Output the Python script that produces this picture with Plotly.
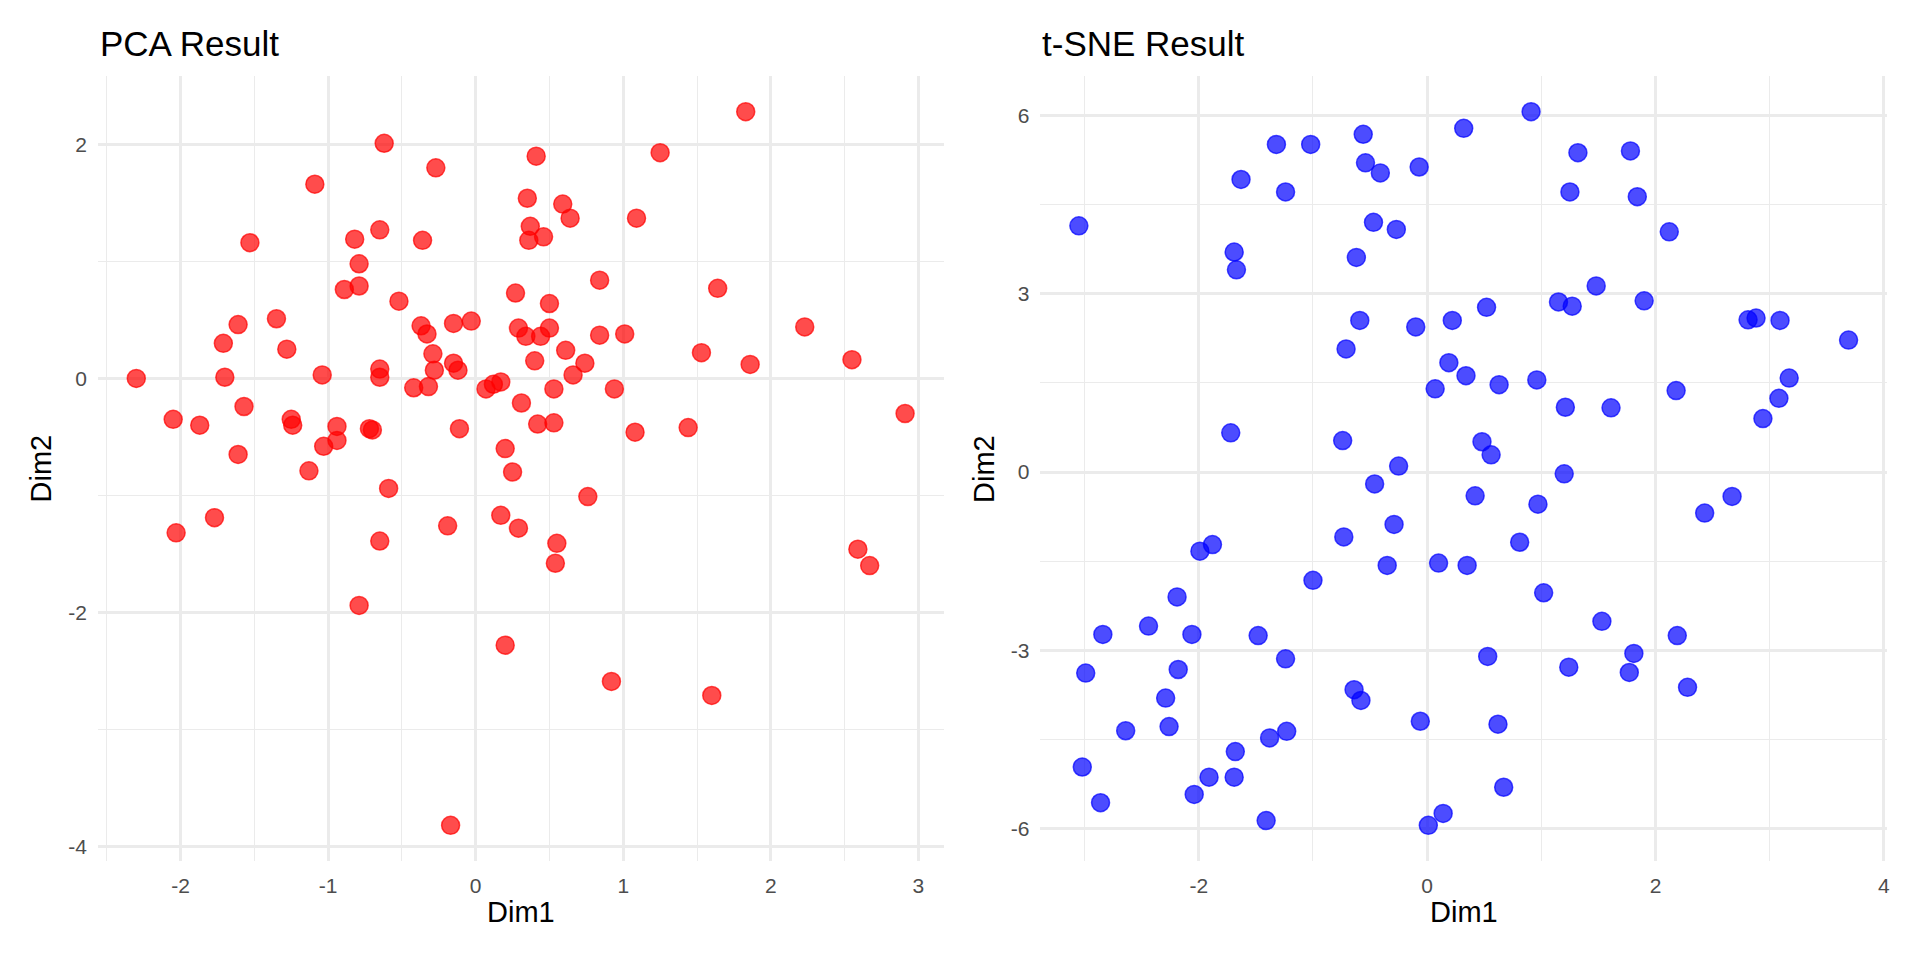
import plotly.graph_objects as go

# ---------------- data ----------------
pca_x = [-2.30, -2.05, -2.03, -1.87, -1.77, -1.71, -1.70, -1.61, -1.61, -1.57,
         -1.53, -1.35, -1.28, -1.25, -1.24, -1.13, -1.09, -1.04, -1.03, -0.94,
         -0.94, -0.89, -0.82, -0.79, -0.79, -0.79, -0.72, -0.70, -0.65, -0.65,
         -0.65, -0.65, -0.62, -0.59, -0.52, -0.42, -0.37, -0.36, -0.33, -0.32,
         -0.29, -0.28, -0.27, -0.19, -0.17, -0.15, -0.15, -0.12, -0.11, -0.03,
         0.07, 0.12, 0.17, 0.17, 0.20, 0.20, 0.25, 0.27, 0.29, 0.29,
         0.31, 0.34, 0.35, 0.36, 0.37, 0.41, 0.40, 0.42, 0.44, 0.46,
         0.50, 0.50, 0.53, 0.53, 0.55, 0.54, 0.59, 0.61, 0.64, 0.66,
         0.74, 0.76, 0.84, 0.84, 0.94, 0.92, 1.01, 1.09, 1.08, 1.25,
         1.44, 1.53, 1.60, 1.64, 1.83, 1.86, 2.23, 2.55, 2.59, 2.67, 2.91]
pca_y = [0.00, -0.35, -1.32, -0.40, -1.19, 0.30, 0.01, 0.46, -0.65, -0.24,
         1.16, 0.51, 0.25, -0.35, -0.40, -0.79, 1.66, 0.03, -0.58, -0.41,
         -0.53, 0.76, 1.19, 0.98, 0.79, -1.94, -0.43, -0.44, 0.08, 0.01,
         1.27, -1.39, 2.01, -0.94, 0.66, -0.08, 0.45, 1.18, 0.38, -0.07,
         0.21, 0.07, 1.80, -1.26, -3.82, 0.13, 0.47, 0.07, -0.43, 0.49,
         -0.09, -0.05, -1.17, -0.03, -0.60, -2.28, -0.80, 0.73, 0.43, -1.28,
         -0.21, 0.36, 1.54, 1.18, 1.30, 1.90, 0.15, -0.39, 0.36, 1.21,
         0.43, 0.64, -0.09, -0.38, -1.41, -1.58, 1.49, 0.24, 1.37, 0.03,
         0.13, -1.01, 0.84, 0.37, -0.09, -2.59, 0.38, 1.37, -0.46, 1.93,
         -0.42, 0.22, -2.71, 0.77, 2.28, 0.12, 0.44, 0.16, -1.46, -1.60, -0.30]

tsne_x = [-3.05, -1.63, -1.32, -1.24, -1.02, -0.56, -0.54, -0.41, -0.07, 0.32,
          -1.69, -1.67, -0.47, -0.27, -0.62, -0.59, -0.10, 0.22, -0.71, 0.19,
          0.34, 0.07, -1.72, -0.74, -0.25, 0.91, 1.32, 1.78, 1.25, 1.84,
          2.12, 1.48, 1.15, 1.27, 1.90, 0.52, 2.81, 2.88, 3.09, 3.69,
          0.63, 0.96, 1.21, 1.61, 2.18, 3.17, 3.08, 2.94, 0.48, 0.56,
          1.20, -0.46, -0.29, -0.73, 0.42, -1.99, -1.88, -1.00, -0.35, 0.10,
          0.35, -2.19, -2.84, -2.44, -2.06, -1.48, -1.24, -2.99, -2.18, -2.29,
          -2.64, -2.26, -0.64, -0.58, -0.06, -1.38, -1.23, -1.68, -3.02, -1.91,
          -1.69, -2.86, -2.04, -1.41, 0.14, 0.01, 0.97, 0.81, 1.02, 1.53,
          2.19, 2.43, 2.67, 0.53, 1.24, 1.81, 1.77, 2.28, 0.62, 0.67]
tsne_y = [4.14, 4.92, 5.51, 4.71, 5.51, 5.68, 5.20, 5.03, 5.13, 5.78,
          3.70, 3.40, 4.20, 4.08, 3.61, 2.55, 2.44, 2.55, 2.07, 1.84,
          1.62, 1.40, 0.66, 0.53, 0.10, 6.06, 5.37, 5.40, 4.71, 4.63,
          4.04, 3.13, 2.86, 2.79, 2.88, 2.77, 2.56, 2.59, 2.55, 2.22,
          1.47, 1.55, 1.09, 1.08, 1.37, 1.58, 1.24, 0.90, 0.51, 0.29,
          -0.03, -0.20, -0.88, -1.09, -0.40, -1.33, -1.22, -1.82, -1.57, -1.53,
          -1.57, -2.10, -2.73, -2.59, -2.73, -2.75, -3.14, -3.38, -3.32, -3.80,
          -4.35, -4.28, -3.66, -3.84, -4.19, -4.47, -4.36, -4.70, -4.96, -5.13,
          -5.13, -5.56, -5.42, -5.86, -5.74, -5.94, -0.54, -1.18, -2.03, -2.51,
          -2.75, -0.69, -0.41, -3.10, -3.28, -3.05, -3.37, -3.62, -4.24, -5.30]

# tick values and labels (ASCII hyphen minus, as in the reference)
pca_xticks = [-2, -1, 0, 1, 2, 3]
pca_xlabels = ["-2", "-1", "0", "1", "2", "3"]
pca_yticks = [-4, -2, 0, 2]
pca_ylabels = ["-4", "-2", "0", "2"]
tsne_xticks = [-2, 0, 2, 4]
tsne_xlabels = ["-2", "0", "2", "4"]
tsne_yticks = [-6, -3, 0, 3, 6]
tsne_ylabels = ["-6", "-3", "0", "3", "6"]

panel_titles = ["PCA Result", "t-SNE Result"]
x_label = "Dim1"
y_label = "Dim2"

# ---------------- figure ----------------
W, H = 1920, 960
FONT = "Liberation Sans, Arial, Helvetica, sans-serif"
GRID = "#EBEBEB"
TICKC = "#4D4D4D"


def expand(vals, f=0.05):
    lo, hi = min(vals), max(vals)
    d = (hi - lo) * f
    return [lo - d, hi + d]


boxes = [(98, 945), (1042, 1890)]
top_px, bot_px = 76, 861
ydom = [1 - bot_px / H, 1 - top_px / H]

fig = go.Figure()
fig.add_trace(go.Scatter(
    x=pca_x, y=pca_y, mode="markers", xaxis="x", yaxis="y",
    marker=dict(size=18, color="rgba(255,0,0,0.7)",
                line=dict(color="rgba(255,0,0,0.7)", width=1.5)),
    showlegend=False, hoverinfo="x+y"))
fig.add_trace(go.Scatter(
    x=tsne_x, y=tsne_y, mode="markers", xaxis="x2", yaxis="y2",
    marker=dict(size=18, color="rgba(0,0,255,0.7)",
                line=dict(color="rgba(0,0,255,0.7)", width=1.5)),
    showlegend=False, hoverinfo="x+y"))


def axis(dom, rng, tv, tt, anchor, minor_dtick):
    return dict(
        domain=dom, range=rng, anchor=anchor,
        tickmode="array", tickvals=tv, ticktext=tt,
        showgrid=True, gridcolor=GRID, gridwidth=2.6,
        zeroline=False, showline=False, ticks="",
        tickfont=dict(family=FONT, size=21, color=TICKC),
        ticklabelstandoff=10,
        minor=dict(showgrid=True, gridcolor=GRID, gridwidth=1.3,
                   dtick=minor_dtick, tick0=0, ticks=""),
    )


xd1 = [boxes[0][0] / W, boxes[0][1] / W]
xd2 = [boxes[1][0] / W, boxes[1][1] / W]

fig.update_layout(
    width=W, height=H, autosize=False,
    margin=dict(l=0, r=0, t=0, b=0),
    paper_bgcolor="white", plot_bgcolor="white",
    font=dict(family=FONT, color="black"),
    xaxis=axis(xd1, expand(pca_x), pca_xticks, pca_xlabels, "y", 0.5),
    yaxis=axis(ydom, expand(pca_y), pca_yticks, pca_ylabels, "x", 1),
    xaxis2=axis(xd2, expand(tsne_x), tsne_xticks, tsne_xlabels, "y2", 1),
    yaxis2=axis(ydom, expand(tsne_y), tsne_yticks, tsne_ylabels, "x2", 1.5),
)

ann = []
for (l, r), t in zip(boxes, panel_titles):
    ann.append(dict(text=t, x=l / W, y=1 - 44 / H, xref="paper", yref="paper",
                    xanchor="left", yanchor="middle", showarrow=False,
                    font=dict(family=FONT, size=35, color="black")))
    ann.append(dict(text=x_label, x=(l + r) / 2 / W, y=1 - 912 / H,
                    xref="paper", yref="paper", xanchor="center",
                    yanchor="middle", showarrow=False,
                    font=dict(family=FONT, size=29, color="black")))
    ann.append(dict(text=y_label, x=(l - 57) / W, y=1 - (top_px + bot_px) / 2 / H,
                    xref="paper", yref="paper", xanchor="center",
                    yanchor="middle", textangle=-90, showarrow=False,
                    font=dict(family=FONT, size=29, color="black")))
fig.update_layout(annotations=ann)

fig.write_html("out.html", config={"displayModeBar": False},
               post_script="document.body.style.margin='0';")
